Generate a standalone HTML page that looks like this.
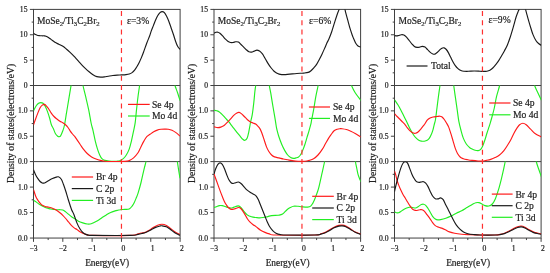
<!DOCTYPE html><html><head><meta charset="utf-8"><style>html,body{margin:0;padding:0;background:#fff;}svg{display:block;}text{font-family:"Liberation Serif",serif;fill:#222;stroke:#222;stroke-width:0.2px;}</style></head><body>
<svg width="550" height="273" viewBox="0 0 550 273">
<rect width="550" height="273" fill="#fff"/>
<defs>
<clipPath id="c00"><rect x="33.50" y="9.40" width="146.60" height="77.60"/></clipPath>
<clipPath id="c10"><rect x="33.50" y="85.50" width="146.60" height="77.60"/></clipPath>
<clipPath id="c20"><rect x="33.50" y="161.60" width="146.60" height="77.95"/></clipPath>
<clipPath id="c01"><rect x="214.00" y="9.40" width="146.60" height="77.60"/></clipPath>
<clipPath id="c11"><rect x="214.00" y="85.50" width="146.60" height="77.60"/></clipPath>
<clipPath id="c21"><rect x="214.00" y="161.60" width="146.60" height="77.95"/></clipPath>
<clipPath id="c02"><rect x="394.50" y="9.40" width="146.60" height="77.60"/></clipPath>
<clipPath id="c12"><rect x="394.50" y="85.50" width="146.60" height="77.60"/></clipPath>
<clipPath id="c22"><rect x="394.50" y="161.60" width="146.60" height="77.95"/></clipPath>
</defs>
<rect x="33.50" y="9.40" width="146.60" height="228.65" fill="none" stroke="#404040" stroke-width="1"/>
<line x1="33.50" y1="85.50" x2="180.10" y2="85.50" stroke="#404040" stroke-width="1"/>
<line x1="33.50" y1="161.60" x2="180.10" y2="161.60" stroke="#404040" stroke-width="1"/>
<line x1="29.90" y1="85.50" x2="33.50" y2="85.50" stroke="#404040" stroke-width="1"/>
<text transform="translate(27.50,88.00) scale(1.04,1)" font-size="7.35" text-anchor="end">0</text>
<line x1="29.90" y1="60.13" x2="33.50" y2="60.13" stroke="#404040" stroke-width="1"/>
<text transform="translate(27.50,62.63) scale(1.04,1)" font-size="7.35" text-anchor="end">5</text>
<line x1="29.90" y1="34.77" x2="33.50" y2="34.77" stroke="#404040" stroke-width="1"/>
<text transform="translate(27.50,37.27) scale(1.04,1)" font-size="7.35" text-anchor="end">10</text>
<line x1="29.90" y1="9.40" x2="33.50" y2="9.40" stroke="#404040" stroke-width="1"/>
<text transform="translate(27.50,11.90) scale(1.04,1)" font-size="7.35" text-anchor="end">15</text>
<line x1="31.70" y1="72.82" x2="33.50" y2="72.82" stroke="#404040" stroke-width="1"/>
<line x1="31.70" y1="47.45" x2="33.50" y2="47.45" stroke="#404040" stroke-width="1"/>
<line x1="31.70" y1="22.08" x2="33.50" y2="22.08" stroke="#404040" stroke-width="1"/>
<line x1="29.90" y1="161.60" x2="33.50" y2="161.60" stroke="#404040" stroke-width="1"/>
<text transform="translate(27.50,164.10) scale(1.04,1)" font-size="7.35" text-anchor="end">0.0</text>
<line x1="29.90" y1="136.23" x2="33.50" y2="136.23" stroke="#404040" stroke-width="1"/>
<text transform="translate(27.50,138.73) scale(1.04,1)" font-size="7.35" text-anchor="end">0.5</text>
<line x1="29.90" y1="110.87" x2="33.50" y2="110.87" stroke="#404040" stroke-width="1"/>
<text transform="translate(27.50,113.37) scale(1.04,1)" font-size="7.35" text-anchor="end">1.0</text>
<line x1="31.70" y1="148.92" x2="33.50" y2="148.92" stroke="#404040" stroke-width="1"/>
<line x1="31.70" y1="123.55" x2="33.50" y2="123.55" stroke="#404040" stroke-width="1"/>
<line x1="31.70" y1="98.18" x2="33.50" y2="98.18" stroke="#404040" stroke-width="1"/>
<line x1="29.90" y1="238.05" x2="33.50" y2="238.05" stroke="#404040" stroke-width="1"/>
<text transform="translate(27.50,240.95) scale(1.04,1)" font-size="7.35" text-anchor="end">0.0</text>
<line x1="29.90" y1="212.57" x2="33.50" y2="212.57" stroke="#404040" stroke-width="1"/>
<text transform="translate(27.50,215.47) scale(1.04,1)" font-size="7.35" text-anchor="end">0.5</text>
<line x1="29.90" y1="187.08" x2="33.50" y2="187.08" stroke="#404040" stroke-width="1"/>
<text transform="translate(27.50,189.98) scale(1.04,1)" font-size="7.35" text-anchor="end">1.0</text>
<line x1="31.70" y1="225.31" x2="33.50" y2="225.31" stroke="#404040" stroke-width="1"/>
<line x1="31.70" y1="199.82" x2="33.50" y2="199.82" stroke="#404040" stroke-width="1"/>
<line x1="31.70" y1="174.34" x2="33.50" y2="174.34" stroke="#404040" stroke-width="1"/>
<line x1="33.50" y1="238.05" x2="33.50" y2="241.85" stroke="#404040" stroke-width="1"/>
<text transform="translate(33.50,250.65) scale(1.04,1)" font-size="7.35" text-anchor="middle">−3</text>
<line x1="62.82" y1="238.05" x2="62.82" y2="241.85" stroke="#404040" stroke-width="1"/>
<text transform="translate(62.82,250.65) scale(1.04,1)" font-size="7.35" text-anchor="middle">−2</text>
<line x1="92.14" y1="238.05" x2="92.14" y2="241.85" stroke="#404040" stroke-width="1"/>
<text transform="translate(92.14,250.65) scale(1.04,1)" font-size="7.35" text-anchor="middle">−1</text>
<line x1="121.46" y1="238.05" x2="121.46" y2="241.85" stroke="#404040" stroke-width="1"/>
<text transform="translate(123.36,250.65) scale(1.04,1)" font-size="7.35" text-anchor="middle">0</text>
<line x1="150.78" y1="238.05" x2="150.78" y2="241.85" stroke="#404040" stroke-width="1"/>
<text transform="translate(152.68,250.65) scale(1.04,1)" font-size="7.35" text-anchor="middle">1</text>
<line x1="180.10" y1="238.05" x2="180.10" y2="241.85" stroke="#404040" stroke-width="1"/>
<text transform="translate(182.00,250.65) scale(1.04,1)" font-size="7.35" text-anchor="middle">2</text>
<line x1="48.16" y1="238.05" x2="48.16" y2="240.05" stroke="#404040" stroke-width="1"/>
<line x1="77.48" y1="238.05" x2="77.48" y2="240.05" stroke="#404040" stroke-width="1"/>
<line x1="106.80" y1="238.05" x2="106.80" y2="240.05" stroke="#404040" stroke-width="1"/>
<line x1="136.12" y1="238.05" x2="136.12" y2="240.05" stroke="#404040" stroke-width="1"/>
<line x1="165.44" y1="238.05" x2="165.44" y2="240.05" stroke="#404040" stroke-width="1"/>
<text x="107.10" y="265.60" font-size="9.35" text-anchor="middle">Energy(eV)</text>
<text transform="translate(13.90,123.40) rotate(-90)" font-size="9.65" text-anchor="middle">Density of states(electrons/eV)</text>
<text x="37.00" y="23.70" font-size="9.5">MoSe<tspan font-size="6.7" dy="2.4">2</tspan><tspan dy="-2.4">/Ti</tspan><tspan font-size="6.7" dy="2.4">3</tspan><tspan dy="-2.4">C</tspan><tspan font-size="6.7" dy="2.4">2</tspan><tspan dy="-2.4">Br</tspan><tspan font-size="6.7" dy="2.4">2</tspan></text>
<text x="126.90" y="24.30" font-size="9.6">ε=3%</text>
<rect x="214.00" y="9.40" width="146.60" height="228.65" fill="none" stroke="#404040" stroke-width="1"/>
<line x1="214.00" y1="85.50" x2="360.60" y2="85.50" stroke="#404040" stroke-width="1"/>
<line x1="214.00" y1="161.60" x2="360.60" y2="161.60" stroke="#404040" stroke-width="1"/>
<line x1="210.40" y1="85.50" x2="214.00" y2="85.50" stroke="#404040" stroke-width="1"/>
<text transform="translate(208.00,88.00) scale(1.04,1)" font-size="7.35" text-anchor="end">0</text>
<line x1="210.40" y1="60.13" x2="214.00" y2="60.13" stroke="#404040" stroke-width="1"/>
<text transform="translate(208.00,62.63) scale(1.04,1)" font-size="7.35" text-anchor="end">5</text>
<line x1="210.40" y1="34.77" x2="214.00" y2="34.77" stroke="#404040" stroke-width="1"/>
<text transform="translate(208.00,37.27) scale(1.04,1)" font-size="7.35" text-anchor="end">10</text>
<line x1="210.40" y1="9.40" x2="214.00" y2="9.40" stroke="#404040" stroke-width="1"/>
<text transform="translate(208.00,11.90) scale(1.04,1)" font-size="7.35" text-anchor="end">15</text>
<line x1="212.20" y1="72.82" x2="214.00" y2="72.82" stroke="#404040" stroke-width="1"/>
<line x1="212.20" y1="47.45" x2="214.00" y2="47.45" stroke="#404040" stroke-width="1"/>
<line x1="212.20" y1="22.08" x2="214.00" y2="22.08" stroke="#404040" stroke-width="1"/>
<line x1="210.40" y1="161.60" x2="214.00" y2="161.60" stroke="#404040" stroke-width="1"/>
<text transform="translate(208.00,164.10) scale(1.04,1)" font-size="7.35" text-anchor="end">0.0</text>
<line x1="210.40" y1="136.23" x2="214.00" y2="136.23" stroke="#404040" stroke-width="1"/>
<text transform="translate(208.00,138.73) scale(1.04,1)" font-size="7.35" text-anchor="end">0.5</text>
<line x1="210.40" y1="110.87" x2="214.00" y2="110.87" stroke="#404040" stroke-width="1"/>
<text transform="translate(208.00,113.37) scale(1.04,1)" font-size="7.35" text-anchor="end">1.0</text>
<line x1="212.20" y1="148.92" x2="214.00" y2="148.92" stroke="#404040" stroke-width="1"/>
<line x1="212.20" y1="123.55" x2="214.00" y2="123.55" stroke="#404040" stroke-width="1"/>
<line x1="212.20" y1="98.18" x2="214.00" y2="98.18" stroke="#404040" stroke-width="1"/>
<line x1="210.40" y1="238.05" x2="214.00" y2="238.05" stroke="#404040" stroke-width="1"/>
<text transform="translate(208.00,240.95) scale(1.04,1)" font-size="7.35" text-anchor="end">0.0</text>
<line x1="210.40" y1="212.57" x2="214.00" y2="212.57" stroke="#404040" stroke-width="1"/>
<text transform="translate(208.00,215.47) scale(1.04,1)" font-size="7.35" text-anchor="end">0.5</text>
<line x1="210.40" y1="187.08" x2="214.00" y2="187.08" stroke="#404040" stroke-width="1"/>
<text transform="translate(208.00,189.98) scale(1.04,1)" font-size="7.35" text-anchor="end">1.0</text>
<line x1="212.20" y1="225.31" x2="214.00" y2="225.31" stroke="#404040" stroke-width="1"/>
<line x1="212.20" y1="199.82" x2="214.00" y2="199.82" stroke="#404040" stroke-width="1"/>
<line x1="212.20" y1="174.34" x2="214.00" y2="174.34" stroke="#404040" stroke-width="1"/>
<line x1="214.00" y1="238.05" x2="214.00" y2="241.85" stroke="#404040" stroke-width="1"/>
<text transform="translate(214.00,250.65) scale(1.04,1)" font-size="7.35" text-anchor="middle">−3</text>
<line x1="243.32" y1="238.05" x2="243.32" y2="241.85" stroke="#404040" stroke-width="1"/>
<text transform="translate(243.32,250.65) scale(1.04,1)" font-size="7.35" text-anchor="middle">−2</text>
<line x1="272.64" y1="238.05" x2="272.64" y2="241.85" stroke="#404040" stroke-width="1"/>
<text transform="translate(272.64,250.65) scale(1.04,1)" font-size="7.35" text-anchor="middle">−1</text>
<line x1="301.96" y1="238.05" x2="301.96" y2="241.85" stroke="#404040" stroke-width="1"/>
<text transform="translate(303.86,250.65) scale(1.04,1)" font-size="7.35" text-anchor="middle">0</text>
<line x1="331.28" y1="238.05" x2="331.28" y2="241.85" stroke="#404040" stroke-width="1"/>
<text transform="translate(333.18,250.65) scale(1.04,1)" font-size="7.35" text-anchor="middle">1</text>
<line x1="360.60" y1="238.05" x2="360.60" y2="241.85" stroke="#404040" stroke-width="1"/>
<text transform="translate(362.50,250.65) scale(1.04,1)" font-size="7.35" text-anchor="middle">2</text>
<line x1="228.66" y1="238.05" x2="228.66" y2="240.05" stroke="#404040" stroke-width="1"/>
<line x1="257.98" y1="238.05" x2="257.98" y2="240.05" stroke="#404040" stroke-width="1"/>
<line x1="287.30" y1="238.05" x2="287.30" y2="240.05" stroke="#404040" stroke-width="1"/>
<line x1="316.62" y1="238.05" x2="316.62" y2="240.05" stroke="#404040" stroke-width="1"/>
<line x1="345.94" y1="238.05" x2="345.94" y2="240.05" stroke="#404040" stroke-width="1"/>
<text x="287.60" y="265.60" font-size="9.35" text-anchor="middle">Energy(eV)</text>
<text transform="translate(195.10,123.40) rotate(-90)" font-size="9.65" text-anchor="middle">Density of states(electrons/eV)</text>
<text x="217.70" y="23.70" font-size="9.5">MoSe<tspan font-size="6.7" dy="2.4">2</tspan><tspan dy="-2.4">/Ti</tspan><tspan font-size="6.7" dy="2.4">3</tspan><tspan dy="-2.4">C</tspan><tspan font-size="6.7" dy="2.4">2</tspan><tspan dy="-2.4">Br</tspan><tspan font-size="6.7" dy="2.4">2</tspan></text>
<text x="309.00" y="23.70" font-size="9.6">ε=6%</text>
<rect x="394.50" y="9.40" width="146.60" height="228.65" fill="none" stroke="#404040" stroke-width="1"/>
<line x1="394.50" y1="85.50" x2="541.10" y2="85.50" stroke="#404040" stroke-width="1"/>
<line x1="394.50" y1="161.60" x2="541.10" y2="161.60" stroke="#404040" stroke-width="1"/>
<line x1="390.90" y1="85.50" x2="394.50" y2="85.50" stroke="#404040" stroke-width="1"/>
<text transform="translate(388.50,88.00) scale(1.04,1)" font-size="7.35" text-anchor="end">0</text>
<line x1="390.90" y1="60.13" x2="394.50" y2="60.13" stroke="#404040" stroke-width="1"/>
<text transform="translate(388.50,62.63) scale(1.04,1)" font-size="7.35" text-anchor="end">5</text>
<line x1="390.90" y1="34.77" x2="394.50" y2="34.77" stroke="#404040" stroke-width="1"/>
<text transform="translate(388.50,37.27) scale(1.04,1)" font-size="7.35" text-anchor="end">10</text>
<line x1="390.90" y1="9.40" x2="394.50" y2="9.40" stroke="#404040" stroke-width="1"/>
<text transform="translate(388.50,11.90) scale(1.04,1)" font-size="7.35" text-anchor="end">15</text>
<line x1="392.70" y1="72.82" x2="394.50" y2="72.82" stroke="#404040" stroke-width="1"/>
<line x1="392.70" y1="47.45" x2="394.50" y2="47.45" stroke="#404040" stroke-width="1"/>
<line x1="392.70" y1="22.08" x2="394.50" y2="22.08" stroke="#404040" stroke-width="1"/>
<line x1="390.90" y1="161.60" x2="394.50" y2="161.60" stroke="#404040" stroke-width="1"/>
<text transform="translate(388.50,164.10) scale(1.04,1)" font-size="7.35" text-anchor="end">0.0</text>
<line x1="390.90" y1="136.23" x2="394.50" y2="136.23" stroke="#404040" stroke-width="1"/>
<text transform="translate(388.50,138.73) scale(1.04,1)" font-size="7.35" text-anchor="end">0.5</text>
<line x1="390.90" y1="110.87" x2="394.50" y2="110.87" stroke="#404040" stroke-width="1"/>
<text transform="translate(388.50,113.37) scale(1.04,1)" font-size="7.35" text-anchor="end">1.0</text>
<line x1="392.70" y1="148.92" x2="394.50" y2="148.92" stroke="#404040" stroke-width="1"/>
<line x1="392.70" y1="123.55" x2="394.50" y2="123.55" stroke="#404040" stroke-width="1"/>
<line x1="392.70" y1="98.18" x2="394.50" y2="98.18" stroke="#404040" stroke-width="1"/>
<line x1="390.90" y1="238.05" x2="394.50" y2="238.05" stroke="#404040" stroke-width="1"/>
<text transform="translate(388.50,240.95) scale(1.04,1)" font-size="7.35" text-anchor="end">0.0</text>
<line x1="390.90" y1="212.57" x2="394.50" y2="212.57" stroke="#404040" stroke-width="1"/>
<text transform="translate(388.50,215.47) scale(1.04,1)" font-size="7.35" text-anchor="end">0.5</text>
<line x1="390.90" y1="187.08" x2="394.50" y2="187.08" stroke="#404040" stroke-width="1"/>
<text transform="translate(388.50,189.98) scale(1.04,1)" font-size="7.35" text-anchor="end">1.0</text>
<line x1="392.70" y1="225.31" x2="394.50" y2="225.31" stroke="#404040" stroke-width="1"/>
<line x1="392.70" y1="199.82" x2="394.50" y2="199.82" stroke="#404040" stroke-width="1"/>
<line x1="392.70" y1="174.34" x2="394.50" y2="174.34" stroke="#404040" stroke-width="1"/>
<line x1="394.50" y1="238.05" x2="394.50" y2="241.85" stroke="#404040" stroke-width="1"/>
<text transform="translate(394.50,250.65) scale(1.04,1)" font-size="7.35" text-anchor="middle">−3</text>
<line x1="423.82" y1="238.05" x2="423.82" y2="241.85" stroke="#404040" stroke-width="1"/>
<text transform="translate(423.82,250.65) scale(1.04,1)" font-size="7.35" text-anchor="middle">−2</text>
<line x1="453.14" y1="238.05" x2="453.14" y2="241.85" stroke="#404040" stroke-width="1"/>
<text transform="translate(453.14,250.65) scale(1.04,1)" font-size="7.35" text-anchor="middle">−1</text>
<line x1="482.46" y1="238.05" x2="482.46" y2="241.85" stroke="#404040" stroke-width="1"/>
<text transform="translate(484.36,250.65) scale(1.04,1)" font-size="7.35" text-anchor="middle">0</text>
<line x1="511.78" y1="238.05" x2="511.78" y2="241.85" stroke="#404040" stroke-width="1"/>
<text transform="translate(513.68,250.65) scale(1.04,1)" font-size="7.35" text-anchor="middle">1</text>
<line x1="541.10" y1="238.05" x2="541.10" y2="241.85" stroke="#404040" stroke-width="1"/>
<text transform="translate(543.00,250.65) scale(1.04,1)" font-size="7.35" text-anchor="middle">2</text>
<line x1="409.16" y1="238.05" x2="409.16" y2="240.05" stroke="#404040" stroke-width="1"/>
<line x1="438.48" y1="238.05" x2="438.48" y2="240.05" stroke="#404040" stroke-width="1"/>
<line x1="467.80" y1="238.05" x2="467.80" y2="240.05" stroke="#404040" stroke-width="1"/>
<line x1="497.12" y1="238.05" x2="497.12" y2="240.05" stroke="#404040" stroke-width="1"/>
<line x1="526.44" y1="238.05" x2="526.44" y2="240.05" stroke="#404040" stroke-width="1"/>
<text x="468.10" y="265.60" font-size="9.35" text-anchor="middle">Energy(eV)</text>
<text transform="translate(375.60,123.40) rotate(-90)" font-size="9.65" text-anchor="middle">Density of states(electrons/eV)</text>
<text x="398.60" y="23.70" font-size="9.5">MoSe<tspan font-size="6.7" dy="2.4">2</tspan><tspan dy="-2.4">/Ti</tspan><tspan font-size="6.7" dy="2.4">3</tspan><tspan dy="-2.4">C</tspan><tspan font-size="6.7" dy="2.4">2</tspan><tspan dy="-2.4">Br</tspan><tspan font-size="6.7" dy="2.4">2</tspan></text>
<text x="488.40" y="22.60" font-size="9.6">ε=9%</text>
<path d="M33.50,33.30 C33.83,33.52 34.80,34.23 35.50,34.60 C36.20,34.97 36.95,35.32 37.70,35.50 C38.45,35.68 39.25,35.65 40.00,35.70 C40.75,35.75 41.47,35.77 42.20,35.80 C42.93,35.83 43.57,35.73 44.40,35.90 C45.23,36.07 46.10,36.22 47.20,36.80 C48.30,37.38 49.72,38.48 51.00,39.40 C52.28,40.32 53.62,41.50 54.90,42.30 C56.18,43.10 57.43,43.57 58.70,44.20 C59.97,44.83 61.23,45.30 62.50,46.10 C63.77,46.90 65.03,47.95 66.30,49.00 C67.57,50.05 68.83,51.20 70.10,52.40 C71.37,53.60 72.63,54.87 73.90,56.20 C75.17,57.53 76.43,59.00 77.70,60.40 C78.97,61.80 80.23,63.27 81.50,64.60 C82.77,65.93 84.03,67.20 85.30,68.40 C86.57,69.60 87.82,70.75 89.10,71.80 C90.38,72.85 91.72,73.90 93.00,74.70 C94.28,75.50 95.53,76.20 96.80,76.60 C98.07,77.00 99.33,77.05 100.60,77.10 C101.87,77.15 103.10,77.05 104.40,76.90 C105.70,76.75 107.00,76.43 108.40,76.20 C109.80,75.97 111.33,75.68 112.80,75.50 C114.27,75.32 115.73,75.20 117.20,75.10 C118.67,75.00 120.13,74.98 121.60,74.90 C123.07,74.82 124.72,74.75 126.00,74.60 C127.28,74.45 128.28,74.33 129.30,74.00 C130.32,73.67 131.18,73.30 132.10,72.60 C133.02,71.90 133.98,70.82 134.80,69.80 C135.62,68.78 136.27,67.73 137.00,66.50 C137.73,65.27 138.47,63.88 139.20,62.40 C139.93,60.92 140.67,59.33 141.40,57.60 C142.13,55.87 142.70,54.43 143.60,52.00 C144.50,49.57 145.80,45.67 146.80,43.00 C147.80,40.33 148.87,37.98 149.60,36.00 C150.33,34.02 150.57,32.83 151.20,31.10 C151.83,29.37 152.67,27.43 153.40,25.60 C154.13,23.77 154.87,21.78 155.60,20.10 C156.33,18.42 157.07,16.75 157.80,15.50 C158.53,14.25 159.27,13.25 160.00,12.60 C160.73,11.95 161.47,11.60 162.20,11.60 C162.93,11.60 163.67,11.82 164.40,12.60 C165.13,13.38 165.87,14.87 166.60,16.30 C167.33,17.73 168.07,19.33 168.80,21.20 C169.53,23.07 170.20,25.20 171.00,27.50 C171.80,29.80 172.87,32.78 173.60,35.00 C174.33,37.22 174.73,38.92 175.40,40.80 C176.07,42.68 176.82,44.85 177.60,46.30 C178.38,47.75 179.68,48.97 180.10,49.50" fill="none" stroke="#1a1a1a" stroke-width="1.15" stroke-linejoin="round" clip-path="url(#c00)"/>
<path d="M33.50,110.70 C33.98,109.83 35.55,106.73 36.40,105.50 C37.25,104.27 37.87,103.78 38.60,103.30 C39.33,102.82 40.07,102.60 40.80,102.60 C41.53,102.60 42.27,102.68 43.00,103.30 C43.73,103.92 44.47,104.95 45.20,106.30 C45.93,107.65 46.67,109.45 47.40,111.40 C48.13,113.35 48.95,115.82 49.60,118.00 C50.25,120.18 50.68,122.73 51.30,124.50 C51.92,126.27 52.60,127.07 53.30,128.60 C54.00,130.13 54.77,132.43 55.50,133.70 C56.23,134.97 57.10,135.70 57.70,136.20 C58.30,136.70 58.62,136.75 59.10,136.70 C59.58,136.65 59.98,136.88 60.60,135.90 C61.22,134.92 62.15,132.62 62.80,130.80 C63.45,128.98 63.88,127.98 64.50,125.00 C65.12,122.02 65.80,117.12 66.50,112.90 C67.20,108.68 68.05,103.62 68.70,99.70 C69.35,95.78 69.93,92.18 70.40,89.40 C70.87,86.62 71.27,84.40 71.50,83.00 C71.73,81.60 71.75,81.33 71.80,81.00 M82.60,81.00 C82.68,81.83 82.58,83.38 83.10,86.00 C83.62,88.62 84.77,92.72 85.70,96.70 C86.63,100.68 87.80,105.52 88.70,109.90 C89.60,114.28 90.37,119.52 91.10,123.00 C91.83,126.48 92.40,127.78 93.10,130.80 C93.80,133.82 94.57,138.05 95.30,141.10 C96.03,144.15 96.77,146.78 97.50,149.10 C98.23,151.42 98.97,153.40 99.70,155.00 C100.43,156.60 101.05,157.80 101.90,158.70 C102.75,159.60 103.58,160.00 104.80,160.40 C106.02,160.80 107.67,160.95 109.20,161.10 C110.73,161.25 112.53,161.30 114.00,161.30 C115.47,161.30 116.93,161.25 118.00,161.10 C119.07,160.95 119.52,160.80 120.40,160.40 C121.28,160.00 122.32,159.60 123.30,158.70 C124.28,157.80 125.32,156.60 126.30,155.00 C127.28,153.40 128.35,151.42 129.20,149.10 C130.05,146.78 130.67,144.15 131.40,141.10 C132.13,138.05 132.97,133.88 133.60,130.80 C134.23,127.72 134.72,126.08 135.20,122.60 C135.68,119.12 136.03,114.22 136.50,109.90 C136.97,105.58 137.50,100.68 138.00,96.70 C138.50,92.72 139.17,88.62 139.50,86.00 C139.83,83.38 139.92,81.83 140.00,81.00 M174.50,81.00 C174.58,81.75 174.50,83.58 175.00,85.50 C175.50,87.42 176.73,90.23 177.50,92.50 C178.27,94.77 179.10,97.68 179.60,99.10 C180.10,100.52 180.35,100.68 180.50,101.00" fill="none" stroke="#22ee22" stroke-width="1.15" stroke-linejoin="round" clip-path="url(#c10)"/>
<path d="M33.50,125.00 C33.87,123.95 34.97,120.72 35.70,118.70 C36.43,116.68 37.17,114.73 37.90,112.90 C38.63,111.07 39.37,109.00 40.10,107.70 C40.83,106.40 41.57,105.65 42.30,105.10 C43.03,104.55 43.77,104.20 44.50,104.40 C45.23,104.60 45.97,105.50 46.70,106.30 C47.43,107.10 48.17,108.10 48.90,109.20 C49.63,110.30 50.25,111.68 51.10,112.90 C51.95,114.12 53.03,115.48 54.00,116.50 C54.97,117.52 55.92,118.20 56.90,119.00 C57.88,119.80 58.92,120.67 59.90,121.30 C60.88,121.93 61.87,122.22 62.80,122.80 C63.73,123.38 64.63,124.02 65.50,124.80 C66.37,125.58 67.23,126.50 68.00,127.50 C68.77,128.50 69.35,129.72 70.10,130.80 C70.85,131.88 71.77,133.10 72.50,134.00 C73.23,134.90 73.77,135.27 74.50,136.20 C75.23,137.13 76.00,138.30 76.90,139.60 C77.80,140.90 78.92,142.53 79.90,144.00 C80.88,145.47 81.58,146.82 82.80,148.40 C84.02,149.98 85.73,152.08 87.20,153.50 C88.67,154.92 90.13,155.98 91.60,156.90 C93.07,157.82 94.53,158.42 96.00,159.00 C97.47,159.58 98.93,160.03 100.40,160.40 C101.87,160.77 103.20,161.02 104.80,161.20 C106.40,161.38 106.67,161.47 110.00,161.50 C113.33,161.53 121.60,161.55 124.80,161.40 C128.00,161.25 127.73,161.18 129.20,160.60 C130.67,160.02 132.13,159.20 133.60,157.90 C135.07,156.60 136.78,154.63 138.00,152.80 C139.22,150.97 139.92,148.85 140.90,146.90 C141.88,144.95 142.92,142.80 143.90,141.10 C144.88,139.40 145.78,137.83 146.80,136.70 C147.82,135.57 148.85,135.13 150.00,134.30 C151.15,133.47 152.48,132.40 153.70,131.70 C154.92,131.00 156.08,130.50 157.30,130.10 C158.52,129.70 159.78,129.47 161.00,129.30 C162.22,129.13 163.38,129.12 164.60,129.10 C165.82,129.08 167.07,129.02 168.30,129.20 C169.53,129.38 170.78,129.67 172.00,130.20 C173.22,130.73 174.27,131.43 175.60,132.40 C176.93,133.37 179.27,135.40 180.00,136.00" fill="none" stroke="#ff1a1a" stroke-width="1.15" stroke-linejoin="round" clip-path="url(#c10)"/>
<path d="M33.50,200.20 C33.98,200.52 35.43,201.43 36.40,202.10 C37.37,202.77 38.32,203.53 39.30,204.20 C40.28,204.87 41.32,205.55 42.30,206.10 C43.28,206.65 44.23,207.13 45.20,207.50 C46.17,207.87 47.12,208.05 48.10,208.30 C49.08,208.55 50.12,208.82 51.10,209.00 C52.08,209.18 53.03,209.28 54.00,209.40 C54.97,209.52 55.92,209.65 56.90,209.70 C57.88,209.75 58.92,209.65 59.90,209.70 C60.88,209.75 61.83,209.63 62.80,210.00 C63.77,210.37 64.72,211.17 65.70,211.90 C66.68,212.63 67.72,213.58 68.70,214.40 C69.68,215.22 70.63,216.12 71.60,216.80 C72.57,217.48 73.37,217.77 74.50,218.50 C75.63,219.23 77.02,220.47 78.40,221.20 C79.78,221.93 81.33,222.43 82.80,222.90 C84.27,223.37 85.98,223.82 87.20,224.00 C88.42,224.18 89.12,224.18 90.10,224.00 C91.08,223.82 91.87,223.45 93.10,222.90 C94.33,222.35 96.03,221.55 97.50,220.70 C98.97,219.85 100.43,218.77 101.90,217.80 C103.37,216.83 104.83,215.80 106.30,214.90 C107.77,214.00 109.23,213.07 110.70,212.40 C112.17,211.73 113.88,211.27 115.10,210.90 C116.32,210.53 117.12,210.40 118.00,210.20 C118.88,210.00 119.27,209.83 120.40,209.70 C121.53,209.57 123.33,209.52 124.80,209.40 C126.27,209.28 127.98,209.55 129.20,209.00 C130.42,208.45 131.25,207.20 132.10,206.10 C132.95,205.00 133.62,203.75 134.30,202.40 C134.98,201.05 135.58,199.52 136.20,198.00 C136.82,196.48 137.22,195.80 138.00,193.30 C138.78,190.80 139.92,186.92 140.90,183.00 C141.88,179.08 143.05,173.37 143.90,169.80 C144.75,166.23 145.57,163.57 146.00,161.60 C146.43,159.63 146.42,158.60 146.50,158.00 M177.00,158.00 C177.07,158.67 176.95,158.92 177.40,162.00 C177.85,165.08 179.23,173.83 179.70,176.50 C180.17,179.17 180.12,177.75 180.20,178.00" fill="none" stroke="#22ee22" stroke-width="1.15" stroke-linejoin="round" clip-path="url(#c20)"/>
<path d="M33.50,189.60 C33.87,190.70 34.97,194.43 35.70,196.20 C36.43,197.97 37.17,199.05 37.90,200.20 C38.63,201.35 39.37,202.25 40.10,203.10 C40.83,203.95 41.45,204.73 42.30,205.30 C43.15,205.87 44.23,206.20 45.20,206.50 C46.17,206.80 47.12,206.88 48.10,207.10 C49.08,207.32 50.12,207.48 51.10,207.80 C52.08,208.12 53.03,208.55 54.00,209.00 C54.97,209.45 55.92,209.88 56.90,210.50 C57.88,211.12 58.92,211.90 59.90,212.70 C60.88,213.50 61.83,214.33 62.80,215.30 C63.77,216.27 64.72,217.35 65.70,218.50 C66.68,219.65 67.72,221.02 68.70,222.20 C69.68,223.38 70.63,224.62 71.60,225.60 C72.57,226.58 73.62,227.45 74.50,228.10 C75.38,228.75 76.00,228.90 76.90,229.50 C77.80,230.10 78.92,231.08 79.90,231.70 C80.88,232.32 81.58,232.70 82.80,233.20 C84.02,233.70 85.73,234.33 87.20,234.70 C88.67,235.07 84.47,235.28 91.60,235.40 C98.73,235.52 122.27,235.65 130.00,235.40 C137.73,235.15 136.33,234.25 138.00,233.90 C139.67,233.55 138.93,233.52 140.00,233.30 C141.07,233.08 142.93,233.08 144.40,232.60 C145.87,232.12 147.33,231.23 148.80,230.40 C150.27,229.57 151.73,228.47 153.20,227.60 C154.67,226.73 156.13,225.75 157.60,225.20 C159.07,224.65 160.53,224.27 162.00,224.30 C163.47,224.33 164.93,224.67 166.40,225.40 C167.87,226.13 169.33,227.60 170.80,228.70 C172.27,229.80 173.83,231.12 175.20,232.00 C176.57,232.88 178.18,233.62 179.00,234.00 C179.82,234.38 179.92,234.25 180.10,234.30" fill="none" stroke="#ff1a1a" stroke-width="1.15" stroke-linejoin="round" clip-path="url(#c20)"/>
<path d="M33.50,169.80 C33.87,170.65 34.97,173.43 35.70,174.90 C36.43,176.37 37.17,177.50 37.90,178.60 C38.63,179.70 39.37,180.77 40.10,181.50 C40.83,182.23 41.57,182.75 42.30,183.00 C43.03,183.25 43.77,183.20 44.50,183.00 C45.23,182.80 45.85,182.28 46.70,181.80 C47.55,181.32 48.63,180.63 49.60,180.10 C50.57,179.57 51.52,179.05 52.50,178.60 C53.48,178.15 54.52,177.70 55.50,177.40 C56.48,177.10 57.43,176.48 58.40,176.80 C59.37,177.12 60.45,178.02 61.30,179.30 C62.15,180.58 62.77,182.55 63.50,184.50 C64.23,186.45 64.97,188.68 65.70,191.00 C66.43,193.32 67.18,196.07 67.90,198.40 C68.62,200.73 69.38,203.12 70.00,205.00 C70.62,206.88 70.93,208.07 71.60,209.70 C72.27,211.33 73.12,212.60 74.00,214.80 C74.88,217.00 75.92,220.57 76.90,222.90 C77.88,225.23 78.92,227.20 79.90,228.80 C80.88,230.40 81.83,231.57 82.80,232.50 C83.77,233.43 84.72,233.97 85.70,234.40 C86.68,234.83 87.47,234.93 88.70,235.10 C89.93,235.27 86.22,235.35 93.10,235.40 C99.98,235.45 122.52,235.57 130.00,235.40 C137.48,235.23 135.93,234.73 138.00,234.40 C140.07,234.07 140.93,233.80 142.40,233.40 C143.87,233.00 145.33,232.60 146.80,232.00 C148.27,231.40 149.73,230.57 151.20,229.80 C152.67,229.03 154.13,228.03 155.60,227.40 C157.07,226.77 158.93,226.27 160.00,226.00 C161.07,225.73 160.93,225.67 162.00,225.80 C163.07,225.93 164.93,226.13 166.40,226.80 C167.87,227.47 169.33,228.77 170.80,229.80 C172.27,230.83 173.83,232.15 175.20,233.00 C176.57,233.85 178.18,234.53 179.00,234.90 C179.82,235.27 179.92,235.15 180.10,235.20" fill="none" stroke="#1a1a1a" stroke-width="1.15" stroke-linejoin="round" clip-path="url(#c20)"/>
<path d="M214.00,33.30 C214.33,33.13 215.35,32.48 216.00,32.30 C216.65,32.12 217.25,32.03 217.90,32.20 C218.55,32.37 219.12,32.68 219.90,33.30 C220.68,33.92 221.72,34.98 222.60,35.90 C223.48,36.82 224.33,37.92 225.20,38.80 C226.07,39.68 226.92,40.58 227.80,41.20 C228.68,41.82 229.62,42.28 230.50,42.50 C231.38,42.72 232.23,42.62 233.10,42.50 C233.97,42.38 234.82,41.87 235.70,41.80 C236.58,41.73 237.52,41.65 238.40,42.10 C239.28,42.55 240.12,43.67 241.00,44.50 C241.88,45.33 242.82,46.23 243.70,47.10 C244.58,47.97 245.43,48.93 246.30,49.70 C247.17,50.47 248.02,51.30 248.90,51.70 C249.78,52.10 250.72,52.20 251.60,52.10 C252.48,52.00 253.32,51.43 254.20,51.10 C255.08,50.77 256.02,50.10 256.90,50.10 C257.78,50.10 258.65,50.55 259.50,51.10 C260.35,51.65 261.37,52.72 262.00,53.40 C262.63,54.08 262.65,54.13 263.30,55.20 C263.95,56.27 265.02,58.27 265.90,59.80 C266.78,61.33 267.72,63.03 268.60,64.40 C269.48,65.77 270.33,66.90 271.20,68.00 C272.07,69.10 272.92,70.17 273.80,71.00 C274.68,71.83 275.62,72.48 276.50,73.00 C277.38,73.52 278.23,73.83 279.10,74.10 C279.97,74.37 280.82,74.52 281.70,74.60 C282.58,74.68 283.07,74.68 284.40,74.60 C285.73,74.52 287.95,74.25 289.70,74.10 C291.45,73.95 293.15,73.83 294.90,73.70 C296.65,73.57 298.68,73.40 300.20,73.30 C301.72,73.20 302.67,73.25 304.00,73.10 C305.33,72.95 307.03,72.80 308.20,72.40 C309.37,72.00 310.07,71.45 311.00,70.70 C311.93,69.95 312.87,68.95 313.80,67.90 C314.73,66.85 315.68,65.80 316.60,64.40 C317.52,63.00 318.38,61.25 319.30,59.50 C320.22,57.75 321.17,55.87 322.10,53.90 C323.03,51.93 324.08,49.55 324.90,47.70 C325.72,45.85 326.35,44.22 327.00,42.80 C327.65,41.38 328.02,41.05 328.80,39.20 C329.58,37.35 330.72,34.55 331.70,31.70 C332.68,28.85 333.72,25.17 334.70,22.10 C335.68,19.03 336.80,15.55 337.60,13.30 C338.40,11.05 338.85,9.98 339.50,8.60 C340.15,7.22 340.83,5.60 341.50,5.00 C342.17,4.40 342.95,4.40 343.50,5.00 C344.05,5.60 344.43,7.33 344.80,8.60 C345.17,9.87 345.18,10.58 345.70,12.60 C346.22,14.62 347.17,18.02 347.90,20.70 C348.63,23.38 349.37,26.27 350.10,28.70 C350.83,31.13 351.75,33.73 352.30,35.30 C352.85,36.87 352.85,36.82 353.40,38.10 C353.95,39.38 354.88,41.73 355.60,43.00 C356.32,44.27 356.98,45.07 357.70,45.70 C358.42,46.33 359.35,46.58 359.90,46.80 C360.45,47.02 360.82,46.97 361.00,47.00" fill="none" stroke="#1a1a1a" stroke-width="1.15" stroke-linejoin="round" clip-path="url(#c01)"/>
<path d="M214.00,110.20 C214.65,110.35 216.77,110.60 217.90,111.10 C219.03,111.60 219.83,112.37 220.80,113.20 C221.77,114.03 222.72,115.05 223.70,116.10 C224.68,117.15 225.77,118.47 226.70,119.50 C227.63,120.53 228.57,121.40 229.30,122.30 C230.03,123.20 230.32,123.85 231.10,124.90 C231.88,125.95 233.03,127.37 234.00,128.60 C234.97,129.83 235.92,131.08 236.90,132.30 C237.88,133.52 238.92,134.73 239.90,135.90 C240.88,137.07 241.95,138.57 242.80,139.30 C243.65,140.03 244.27,140.50 245.00,140.30 C245.73,140.10 246.58,139.43 247.20,138.10 C247.82,136.77 248.27,134.25 248.70,132.30 C249.13,130.35 249.48,128.12 249.80,126.40 C250.12,124.68 250.18,124.02 250.60,122.00 C251.02,119.98 251.77,117.53 252.30,114.30 C252.83,111.07 253.38,106.27 253.80,102.60 C254.22,98.93 254.50,95.07 254.80,92.30 C255.10,89.53 255.40,87.72 255.60,86.00 C255.80,84.28 255.93,82.67 256.00,82.00 M269.00,82.00 C269.07,82.67 269.08,84.03 269.40,86.00 C269.72,87.97 270.42,91.03 270.90,93.80 C271.38,96.57 271.82,99.67 272.30,102.60 C272.78,105.53 273.30,108.47 273.80,111.40 C274.30,114.33 274.90,117.77 275.30,120.20 C275.70,122.63 275.93,124.45 276.20,126.00 C276.47,127.55 276.45,127.72 276.90,129.50 C277.35,131.28 278.07,134.17 278.90,136.70 C279.73,139.23 280.92,142.38 281.90,144.70 C282.88,147.02 283.83,148.88 284.80,150.60 C285.77,152.32 286.72,153.85 287.70,155.00 C288.68,156.15 289.72,156.93 290.70,157.50 C291.68,158.07 292.72,158.33 293.60,158.40 C294.48,158.47 295.23,158.10 296.00,157.90 C296.77,157.70 297.47,157.68 298.20,157.20 C298.93,156.72 299.67,156.10 300.40,155.00 C301.13,153.90 301.87,152.32 302.60,150.60 C303.33,148.88 304.07,146.90 304.80,144.70 C305.53,142.50 306.27,139.83 307.00,137.40 C307.73,134.97 308.55,132.35 309.20,130.10 C309.85,127.85 310.50,125.58 310.90,123.90 C311.30,122.22 311.15,122.33 311.60,120.00 C312.05,117.67 312.90,113.78 313.60,109.90 C314.30,106.02 315.07,100.68 315.80,96.70 C316.53,92.72 317.57,88.45 318.00,86.00 C318.43,83.55 318.33,82.67 318.40,82.00 M350.50,82.00 C350.55,82.33 350.02,82.20 350.80,84.00 C351.58,85.80 353.57,90.13 355.20,92.80 C356.83,95.47 359.55,98.55 360.60,100.00 C361.65,101.45 361.35,101.25 361.50,101.50" fill="none" stroke="#22ee22" stroke-width="1.15" stroke-linejoin="round" clip-path="url(#c11)"/>
<path d="M214.00,126.80 C214.65,126.93 216.77,127.55 217.90,127.60 C219.03,127.65 219.83,127.42 220.80,127.10 C221.77,126.78 222.92,126.18 223.70,125.70 C224.48,125.22 224.77,124.87 225.50,124.20 C226.23,123.53 227.17,122.67 228.10,121.70 C229.03,120.73 230.12,119.50 231.10,118.40 C232.08,117.30 233.03,116.02 234.00,115.10 C234.97,114.18 236.05,113.35 236.90,112.90 C237.75,112.45 238.37,112.28 239.10,112.40 C239.83,112.52 240.43,112.92 241.30,113.60 C242.17,114.28 243.32,115.52 244.30,116.50 C245.28,117.48 246.23,118.63 247.20,119.50 C248.17,120.37 249.12,121.12 250.10,121.70 C251.08,122.28 252.12,122.57 253.10,123.00 C254.08,123.43 255.37,123.93 256.00,124.30 C256.63,124.67 256.25,124.48 256.90,125.20 C257.55,125.92 259.03,127.18 259.90,128.60 C260.77,130.02 261.37,131.75 262.10,133.70 C262.83,135.65 263.57,138.10 264.30,140.30 C265.03,142.50 265.77,145.07 266.50,146.90 C267.23,148.73 267.85,149.95 268.70,151.30 C269.55,152.65 270.63,154.07 271.60,155.00 C272.57,155.93 273.28,156.42 274.50,156.90 C275.72,157.38 277.43,157.55 278.90,157.90 C280.37,158.25 281.83,158.68 283.30,159.00 C284.77,159.32 286.23,159.53 287.70,159.80 C289.17,160.07 290.38,160.37 292.10,160.60 C293.82,160.83 295.85,161.08 298.00,161.20 C300.15,161.32 303.13,161.43 305.00,161.30 C306.87,161.17 307.77,160.83 309.20,160.40 C310.63,159.97 312.13,159.60 313.60,158.70 C315.07,157.80 316.53,156.60 318.00,155.00 C319.47,153.40 321.17,150.97 322.40,149.10 C323.63,147.23 324.38,145.58 325.40,143.80 C326.42,142.02 327.53,139.95 328.50,138.40 C329.47,136.85 330.27,135.77 331.20,134.50 C332.13,133.23 333.08,131.68 334.10,130.80 C335.12,129.92 336.32,129.55 337.30,129.20 C338.28,128.85 339.22,128.78 340.00,128.70 C340.78,128.62 340.93,128.57 342.00,128.70 C343.07,128.83 344.93,129.07 346.40,129.50 C347.87,129.93 349.33,130.63 350.80,131.30 C352.27,131.97 353.50,132.55 355.20,133.50 C356.90,134.45 360.03,136.42 361.00,137.00" fill="none" stroke="#ff1a1a" stroke-width="1.15" stroke-linejoin="round" clip-path="url(#c11)"/>
<path d="M214.00,207.50 C214.40,207.38 215.52,207.12 216.40,206.80 C217.28,206.48 218.32,205.80 219.30,205.60 C220.28,205.40 221.32,205.45 222.30,205.60 C223.28,205.75 224.23,206.18 225.20,206.50 C226.17,206.82 227.12,207.25 228.10,207.50 C229.08,207.75 230.12,208.07 231.10,208.00 C232.08,207.93 233.03,207.42 234.00,207.10 C234.97,206.78 236.05,206.27 236.90,206.10 C237.75,205.93 238.37,205.78 239.10,206.10 C239.83,206.42 240.43,207.03 241.30,208.00 C242.17,208.97 243.32,210.75 244.30,211.90 C245.28,213.05 246.23,214.17 247.20,214.90 C248.17,215.63 249.12,215.93 250.10,216.30 C251.08,216.67 252.12,216.90 253.10,217.10 C254.08,217.30 254.75,217.38 256.00,217.50 C257.25,217.62 258.92,217.88 260.60,217.80 C262.28,217.72 264.27,217.37 266.10,217.00 C267.93,216.63 269.58,215.90 271.60,215.60 C273.62,215.30 276.37,215.45 278.20,215.20 C280.03,214.95 281.13,215.02 282.60,214.10 C284.07,213.18 285.72,210.80 287.00,209.70 C288.28,208.60 289.20,208.08 290.30,207.50 C291.40,206.92 292.32,206.40 293.60,206.20 C294.88,206.00 296.62,206.20 298.00,206.30 C299.38,206.40 300.28,206.67 301.90,206.80 C303.52,206.93 306.23,207.22 307.70,207.10 C309.17,206.98 309.83,206.77 310.70,206.10 C311.57,205.43 312.30,204.08 312.90,203.10 C313.50,202.12 313.90,201.08 314.30,200.20 C314.70,199.32 314.92,198.78 315.30,197.80 C315.68,196.82 316.03,195.95 316.60,194.30 C317.17,192.65 317.85,191.17 318.70,187.90 C319.55,184.63 320.72,179.10 321.70,174.70 C322.68,170.30 324.05,164.28 324.60,161.50 C325.15,158.72 324.93,158.58 325.00,158.00 M355.30,158.00 C355.33,158.67 355.25,160.25 355.50,162.00 C355.75,163.75 356.37,166.38 356.80,168.50 C357.23,170.62 357.52,172.72 358.10,174.70 C358.68,176.68 359.82,179.18 360.30,180.40 C360.78,181.62 360.88,181.73 361.00,182.00" fill="none" stroke="#22ee22" stroke-width="1.15" stroke-linejoin="round" clip-path="url(#c21)"/>
<path d="M214.00,173.90 C214.40,175.00 215.52,178.05 216.40,180.50 C217.28,182.95 218.32,185.93 219.30,188.60 C220.28,191.27 221.43,194.32 222.30,196.50 C223.17,198.68 223.77,200.23 224.50,201.70 C225.23,203.17 225.97,204.25 226.70,205.30 C227.43,206.35 228.17,207.32 228.90,208.00 C229.63,208.68 230.25,209.23 231.10,209.40 C231.95,209.57 233.03,209.23 234.00,209.00 C234.97,208.77 236.05,208.25 236.90,208.00 C237.75,207.75 238.37,207.33 239.10,207.50 C239.83,207.67 240.43,208.02 241.30,209.00 C242.17,209.98 243.32,211.82 244.30,213.40 C245.28,214.98 246.23,217.03 247.20,218.50 C248.17,219.97 249.12,221.17 250.10,222.20 C251.08,223.23 252.12,223.97 253.10,224.70 C254.08,225.43 254.75,225.68 256.00,226.60 C257.25,227.52 259.10,229.23 260.60,230.20 C262.10,231.17 263.53,231.78 265.00,232.40 C266.47,233.02 267.57,233.47 269.40,233.90 C271.23,234.33 268.40,234.82 276.00,235.00 C283.60,235.18 307.52,235.20 315.00,235.00 C322.48,234.80 319.18,234.23 320.90,233.80 C322.62,233.37 323.88,233.03 325.30,232.40 C326.72,231.77 327.93,230.87 329.40,230.00 C330.87,229.13 332.53,227.97 334.10,227.20 C335.67,226.43 337.43,225.75 338.80,225.40 C340.17,225.05 341.13,225.00 342.30,225.10 C343.47,225.20 344.43,225.37 345.80,226.00 C347.17,226.63 348.93,227.90 350.50,228.90 C352.07,229.90 353.73,231.23 355.20,232.00 C356.67,232.77 358.33,233.17 359.30,233.50 C360.27,233.83 360.72,233.92 361.00,234.00" fill="none" stroke="#ff1a1a" stroke-width="1.15" stroke-linejoin="round" clip-path="url(#c21)"/>
<path d="M214.00,173.90 C214.28,173.05 215.05,170.38 215.70,168.80 C216.35,167.22 217.17,165.38 217.90,164.40 C218.63,163.42 219.37,162.90 220.10,162.90 C220.83,162.90 221.57,163.42 222.30,164.40 C223.03,165.38 223.77,167.08 224.50,168.80 C225.23,170.52 225.97,172.87 226.70,174.70 C227.43,176.53 228.17,178.47 228.90,179.80 C229.63,181.13 230.37,182.08 231.10,182.70 C231.83,183.32 232.57,183.50 233.30,183.50 C234.03,183.50 234.65,182.95 235.50,182.70 C236.35,182.45 237.43,181.82 238.40,182.00 C239.37,182.18 240.32,182.95 241.30,183.80 C242.28,184.65 243.32,186.05 244.30,187.10 C245.28,188.15 246.23,189.23 247.20,190.10 C248.17,190.97 249.12,191.65 250.10,192.30 C251.08,192.95 252.12,193.42 253.10,194.00 C254.08,194.58 255.12,194.83 256.00,195.80 C256.88,196.77 257.63,198.22 258.40,199.80 C259.17,201.38 259.87,203.47 260.60,205.30 C261.33,207.13 262.07,208.97 262.80,210.80 C263.53,212.63 264.27,214.47 265.00,216.30 C265.73,218.13 266.47,220.15 267.20,221.80 C267.93,223.45 268.48,224.73 269.40,226.20 C270.32,227.67 271.60,229.43 272.70,230.60 C273.80,231.77 274.72,232.53 276.00,233.20 C277.28,233.87 278.57,234.30 280.40,234.60 C282.23,234.90 281.23,234.93 287.00,235.00 C292.77,235.07 309.35,235.15 315.00,235.00 C320.65,234.85 319.18,234.47 320.90,234.10 C322.62,233.73 323.83,233.38 325.30,232.80 C326.77,232.22 328.23,231.43 329.70,230.60 C331.17,229.77 332.58,228.55 334.10,227.80 C335.62,227.05 337.43,226.42 338.80,226.10 C340.17,225.78 341.13,225.80 342.30,225.90 C343.47,226.00 344.43,226.12 345.80,226.70 C347.17,227.28 348.93,228.47 350.50,229.40 C352.07,230.33 353.73,231.55 355.20,232.30 C356.67,233.05 358.33,233.57 359.30,233.90 C360.27,234.23 360.72,234.23 361.00,234.30" fill="none" stroke="#1a1a1a" stroke-width="1.15" stroke-linejoin="round" clip-path="url(#c21)"/>
<path d="M394.50,35.50 C394.85,35.57 395.92,35.90 396.60,35.90 C397.28,35.90 397.83,35.70 398.60,35.50 C399.37,35.30 400.32,34.78 401.20,34.70 C402.08,34.62 403.02,34.58 403.90,35.00 C404.78,35.42 405.62,36.28 406.50,37.20 C407.38,38.12 408.32,39.40 409.20,40.50 C410.08,41.60 410.93,42.82 411.80,43.80 C412.67,44.78 413.52,45.80 414.40,46.40 C415.28,47.00 416.22,47.28 417.10,47.40 C417.98,47.52 418.83,47.27 419.70,47.10 C420.57,46.93 421.42,46.40 422.30,46.40 C423.18,46.40 424.12,46.55 425.00,47.10 C425.88,47.65 426.72,48.82 427.60,49.70 C428.48,50.58 429.42,51.68 430.30,52.40 C431.18,53.12 432.13,53.72 432.90,54.00 C433.67,54.28 434.13,54.40 434.90,54.10 C435.67,53.80 436.60,52.98 437.50,52.20 C438.40,51.42 439.45,50.10 440.30,49.40 C441.15,48.70 441.97,48.25 442.60,48.00 C443.23,47.75 443.48,47.65 444.10,47.90 C444.72,48.15 445.57,48.67 446.30,49.50 C447.03,50.33 447.77,51.60 448.50,52.90 C449.23,54.20 449.97,55.83 450.70,57.30 C451.43,58.77 452.17,60.37 452.90,61.70 C453.63,63.03 454.25,64.15 455.10,65.30 C455.95,66.45 457.03,67.73 458.00,68.60 C458.97,69.47 459.92,70.07 460.90,70.50 C461.88,70.93 462.67,71.07 463.90,71.20 C465.13,71.33 466.60,71.33 468.30,71.30 C470.00,71.27 472.15,71.02 474.10,71.00 C476.05,70.98 478.35,71.13 480.00,71.20 C481.65,71.27 482.85,71.40 484.00,71.40 C485.15,71.40 485.92,71.40 486.90,71.20 C487.88,71.00 488.92,70.73 489.90,70.20 C490.88,69.67 491.83,68.93 492.80,68.00 C493.77,67.07 494.72,65.83 495.70,64.60 C496.68,63.37 497.72,62.07 498.70,60.60 C499.68,59.13 500.63,57.45 501.60,55.80 C502.57,54.15 503.53,52.50 504.50,50.70 C505.47,48.90 506.47,47.20 507.40,45.00 C508.33,42.80 509.13,40.45 510.10,37.50 C511.07,34.55 512.20,30.72 513.20,27.30 C514.20,23.88 515.25,19.70 516.10,17.00 C516.95,14.30 517.73,12.50 518.30,11.10 C518.87,9.70 518.97,9.78 519.50,8.60 C520.03,7.42 520.75,4.77 521.50,4.00 C522.25,3.23 523.37,3.23 524.00,4.00 C524.63,4.77 524.90,7.17 525.30,8.60 C525.70,10.03 525.85,10.58 526.40,12.60 C526.95,14.62 527.87,18.13 528.60,20.70 C529.33,23.27 530.07,25.68 530.80,28.00 C531.53,30.32 532.15,32.52 533.00,34.60 C533.85,36.68 534.92,38.97 535.90,40.50 C536.88,42.03 537.97,42.98 538.90,43.80 C539.83,44.62 541.07,45.13 541.50,45.40" fill="none" stroke="#1a1a1a" stroke-width="1.15" stroke-linejoin="round" clip-path="url(#c02)"/>
<path d="M394.50,99.70 C395.07,100.55 396.85,103.10 397.90,104.80 C398.95,106.50 399.83,108.07 400.80,109.90 C401.77,111.73 402.72,113.83 403.70,115.80 C404.68,117.77 405.83,119.93 406.70,121.70 C407.57,123.47 408.17,124.88 408.90,126.40 C409.63,127.92 410.37,129.45 411.10,130.80 C411.83,132.15 412.57,133.40 413.30,134.50 C414.03,135.60 414.65,136.50 415.50,137.40 C416.35,138.30 417.43,139.28 418.40,139.90 C419.37,140.52 420.32,140.88 421.30,141.10 C422.28,141.32 423.32,141.33 424.30,141.20 C425.28,141.07 426.35,140.82 427.20,140.30 C428.05,139.78 428.67,139.20 429.40,138.10 C430.13,137.00 430.98,135.17 431.60,133.70 C432.22,132.23 432.62,131.00 433.10,129.30 C433.58,127.60 434.10,125.13 434.50,123.50 C434.90,121.87 435.10,122.00 435.50,119.50 C435.90,117.00 436.42,112.30 436.90,108.50 C437.38,104.70 437.90,100.45 438.40,96.70 C438.90,92.95 439.58,88.45 439.90,86.00 C440.22,83.55 440.23,82.67 440.30,82.00 M453.40,82.00 C453.47,82.67 453.48,83.55 453.80,86.00 C454.12,88.45 454.73,92.72 455.30,96.70 C455.87,100.68 456.60,105.73 457.20,109.90 C457.80,114.07 458.25,118.22 458.90,121.70 C459.55,125.18 460.37,128.07 461.10,130.80 C461.83,133.53 462.43,135.90 463.30,138.10 C464.17,140.30 465.32,142.48 466.30,144.00 C467.28,145.52 468.23,146.35 469.20,147.20 C470.17,148.05 471.12,148.58 472.10,149.10 C473.08,149.62 474.08,150.05 475.10,150.30 C476.12,150.55 477.32,150.72 478.20,150.60 C479.08,150.48 479.67,150.33 480.40,149.60 C481.13,148.87 481.87,147.75 482.60,146.20 C483.33,144.65 484.07,142.50 484.80,140.30 C485.53,138.10 486.27,135.32 487.00,133.00 C487.73,130.68 488.60,128.27 489.20,126.40 C489.80,124.53 490.12,123.45 490.60,121.80 C491.08,120.15 491.48,118.80 492.10,116.50 C492.72,114.20 493.57,111.30 494.30,108.00 C495.03,104.70 495.63,100.37 496.50,96.70 C497.37,93.03 498.92,88.45 499.50,86.00 C500.08,83.55 499.92,82.67 500.00,82.00 M534.20,82.00 C534.27,82.58 534.05,83.83 534.60,85.50 C535.15,87.17 536.40,89.62 537.50,92.00 C538.60,94.38 540.45,98.30 541.20,99.80 C541.95,101.30 541.87,100.80 542.00,101.00" fill="none" stroke="#22ee22" stroke-width="1.15" stroke-linejoin="round" clip-path="url(#c12)"/>
<path d="M394.50,113.60 C394.93,114.08 396.17,115.52 397.10,116.50 C398.03,117.48 399.12,118.52 400.10,119.50 C401.08,120.48 402.15,121.52 403.00,122.40 C403.85,123.28 404.47,123.88 405.20,124.80 C405.93,125.72 406.55,126.85 407.40,127.90 C408.25,128.95 409.32,130.25 410.30,131.10 C411.28,131.95 412.43,132.63 413.30,133.00 C414.17,133.37 414.77,133.42 415.50,133.30 C416.23,133.18 416.85,132.97 417.70,132.30 C418.55,131.63 419.63,130.40 420.60,129.30 C421.57,128.20 422.80,126.58 423.50,125.70 C424.20,124.82 424.18,124.92 424.80,124.00 C425.42,123.08 426.32,121.20 427.20,120.20 C428.08,119.20 429.12,118.53 430.10,118.00 C431.08,117.47 431.97,117.25 433.10,117.00 C434.23,116.75 435.77,116.63 436.90,116.50 C438.03,116.37 439.03,116.12 439.90,116.20 C440.77,116.28 441.37,116.45 442.10,117.00 C442.83,117.55 443.57,118.50 444.30,119.50 C445.03,120.50 445.77,121.73 446.50,123.00 C447.23,124.27 447.97,125.32 448.70,127.10 C449.43,128.88 450.17,131.37 450.90,133.70 C451.63,136.03 452.37,138.65 453.10,141.10 C453.83,143.55 454.57,146.33 455.30,148.40 C456.03,150.47 456.65,152.03 457.50,153.50 C458.35,154.97 459.43,156.33 460.40,157.20 C461.37,158.07 462.08,158.28 463.30,158.70 C464.52,159.12 466.23,159.42 467.70,159.70 C469.17,159.98 470.38,160.18 472.10,160.40 C473.82,160.62 476.35,160.88 478.00,161.00 C479.65,161.12 480.62,161.20 482.00,161.10 C483.38,161.00 484.85,160.68 486.30,160.40 C487.75,160.12 489.23,159.87 490.70,159.40 C492.17,158.93 493.63,158.33 495.10,157.60 C496.57,156.87 498.03,156.17 499.50,155.00 C500.97,153.83 502.43,152.43 503.90,150.60 C505.37,148.77 507.08,145.95 508.30,144.00 C509.52,142.05 510.23,140.73 511.20,138.90 C512.17,137.07 513.12,134.83 514.10,133.00 C515.08,131.17 516.18,129.28 517.10,127.90 C518.02,126.52 518.63,125.48 519.60,124.70 C520.57,123.92 521.80,123.20 522.90,123.20 C524.00,123.20 524.92,123.72 526.20,124.70 C527.48,125.68 529.13,127.63 530.60,129.10 C532.07,130.57 533.18,132.20 535.00,133.50 C536.82,134.80 540.42,136.33 541.50,136.90" fill="none" stroke="#ff1a1a" stroke-width="1.15" stroke-linejoin="round" clip-path="url(#c12)"/>
<path d="M394.50,211.90 C394.82,212.03 395.72,212.57 396.40,212.70 C397.08,212.83 397.87,212.90 398.60,212.70 C399.33,212.50 399.95,212.05 400.80,211.50 C401.65,210.95 402.72,209.98 403.70,209.40 C404.68,208.82 405.72,208.37 406.70,208.00 C407.68,207.63 408.63,207.28 409.60,207.20 C410.57,207.12 411.52,207.37 412.50,207.50 C413.48,207.63 414.52,208.17 415.50,208.00 C416.48,207.83 417.43,207.07 418.40,206.50 C419.37,205.93 420.45,204.98 421.30,204.60 C422.15,204.22 422.77,204.08 423.50,204.20 C424.23,204.32 424.97,204.62 425.70,205.30 C426.43,205.98 427.17,207.18 427.90,208.30 C428.63,209.42 429.32,210.65 430.10,212.00 C430.88,213.35 431.73,215.23 432.60,216.40 C433.47,217.57 434.42,218.42 435.30,219.00 C436.18,219.58 437.02,219.80 437.90,219.90 C438.78,220.00 439.28,219.88 440.60,219.60 C441.92,219.32 444.05,218.78 445.80,218.20 C447.55,217.62 449.33,216.93 451.10,216.10 C452.87,215.27 454.63,214.08 456.40,213.20 C458.17,212.32 459.93,211.73 461.70,210.80 C463.47,209.87 465.62,208.43 467.00,207.60 C468.38,206.77 469.00,206.40 470.00,205.80 C471.00,205.20 472.02,204.52 473.00,204.00 C473.98,203.48 474.92,202.93 475.90,202.70 C476.88,202.47 477.90,202.38 478.90,202.60 C479.90,202.82 480.90,203.50 481.90,204.00 C482.90,204.50 483.75,205.27 484.90,205.60 C486.05,205.93 487.57,206.27 488.80,206.00 C490.03,205.73 491.20,205.22 492.30,204.00 C493.40,202.78 494.37,201.08 495.40,198.70 C496.43,196.32 497.50,193.02 498.50,189.70 C499.50,186.38 500.50,182.43 501.40,178.80 C502.30,175.17 503.27,170.78 503.90,167.90 C504.53,165.02 504.90,163.15 505.20,161.50 C505.50,159.85 505.62,158.58 505.70,158.00 M536.00,158.00 C536.07,158.67 535.98,160.25 536.40,162.00 C536.82,163.75 537.73,166.23 538.50,168.50 C539.27,170.77 540.42,174.02 541.00,175.60 C541.58,177.18 541.83,177.60 542.00,178.00" fill="none" stroke="#22ee22" stroke-width="1.15" stroke-linejoin="round" clip-path="url(#c22)"/>
<path d="M394.50,171.00 C394.70,171.62 395.27,173.12 395.70,174.70 C396.13,176.28 396.62,178.80 397.10,180.50 C397.58,182.20 397.98,183.30 398.60,184.90 C399.22,186.50 400.07,188.50 400.80,190.10 C401.53,191.70 402.27,193.18 403.00,194.50 C403.73,195.82 404.47,196.80 405.20,198.00 C405.93,199.20 406.67,200.48 407.40,201.70 C408.13,202.92 408.87,204.20 409.60,205.30 C410.33,206.40 411.07,207.52 411.80,208.30 C412.53,209.08 413.15,209.63 414.00,210.00 C414.85,210.37 415.92,210.55 416.90,210.50 C417.88,210.45 419.03,209.83 419.90,209.70 C420.77,209.57 421.37,209.45 422.10,209.70 C422.83,209.95 423.45,210.33 424.30,211.20 C425.15,212.07 426.23,213.63 427.20,214.90 C428.17,216.17 429.20,217.52 430.10,218.80 C431.00,220.08 431.73,221.47 432.60,222.60 C433.47,223.73 434.27,224.82 435.30,225.60 C436.33,226.38 437.63,226.83 438.80,227.30 C439.97,227.77 441.13,227.93 442.30,228.40 C443.47,228.87 444.62,229.52 445.80,230.10 C446.98,230.68 447.93,231.37 449.40,231.90 C450.87,232.43 452.55,232.92 454.60,233.30 C456.65,233.68 459.35,233.98 461.70,234.20 C464.05,234.42 465.65,234.47 468.70,234.60 C471.75,234.73 475.62,234.93 480.00,235.00 C484.38,235.07 491.67,235.10 495.00,235.00 C498.33,234.90 498.43,234.70 500.00,234.40 C501.57,234.10 502.93,233.73 504.40,233.20 C505.87,232.67 507.33,231.93 508.80,231.20 C510.27,230.47 511.73,229.55 513.20,228.80 C514.67,228.05 516.25,227.17 517.60,226.70 C518.95,226.23 520.08,225.92 521.30,226.00 C522.52,226.08 523.57,226.57 524.90,227.20 C526.23,227.83 527.83,228.98 529.30,229.80 C530.77,230.62 532.23,231.52 533.70,232.10 C535.17,232.68 536.80,233.00 538.10,233.30 C539.40,233.60 540.93,233.80 541.50,233.90" fill="none" stroke="#ff1a1a" stroke-width="1.15" stroke-linejoin="round" clip-path="url(#c22)"/>
<path d="M394.50,191.50 C394.82,190.17 395.72,186.18 396.40,183.50 C397.08,180.82 397.87,177.97 398.60,175.40 C399.33,172.83 400.07,170.13 400.80,168.10 C401.53,166.07 402.27,164.28 403.00,163.20 C403.73,162.12 404.47,161.65 405.20,161.60 C405.93,161.55 406.67,161.82 407.40,162.90 C408.13,163.98 408.87,166.27 409.60,168.10 C410.33,169.93 411.07,172.20 411.80,173.90 C412.53,175.60 413.27,177.07 414.00,178.30 C414.73,179.53 415.47,180.63 416.20,181.30 C416.93,181.97 417.55,182.18 418.40,182.30 C419.25,182.42 420.45,182.10 421.30,182.00 C422.15,181.90 422.77,181.50 423.50,181.70 C424.23,181.90 424.97,182.42 425.70,183.20 C426.43,183.98 427.17,185.07 427.90,186.40 C428.63,187.73 429.32,189.60 430.10,191.20 C430.88,192.80 431.73,194.75 432.60,196.00 C433.47,197.25 434.42,198.22 435.30,198.70 C436.18,199.18 437.02,199.03 437.90,198.90 C438.78,198.77 439.72,197.77 440.60,197.90 C441.48,198.03 442.33,198.52 443.20,199.70 C444.07,200.88 444.92,203.25 445.80,205.00 C446.68,206.75 447.62,208.45 448.50,210.20 C449.38,211.95 450.22,213.73 451.10,215.50 C451.98,217.27 452.92,219.18 453.80,220.80 C454.68,222.42 455.38,223.82 456.40,225.20 C457.42,226.58 458.72,227.98 459.90,229.10 C461.08,230.22 462.17,231.13 463.50,231.90 C464.83,232.67 466.15,233.25 467.90,233.70 C469.65,234.15 471.98,234.38 474.00,234.60 C476.02,234.82 476.50,234.93 480.00,235.00 C483.50,235.07 491.67,235.07 495.00,235.00 C498.33,234.93 498.43,234.83 500.00,234.60 C501.57,234.37 502.93,234.07 504.40,233.60 C505.87,233.13 507.33,232.50 508.80,231.80 C510.27,231.10 511.73,230.12 513.20,229.40 C514.67,228.68 516.25,227.92 517.60,227.50 C518.95,227.08 520.08,226.82 521.30,226.90 C522.52,226.98 523.57,227.42 524.90,228.00 C526.23,228.58 527.83,229.63 529.30,230.40 C530.77,231.17 532.23,232.05 533.70,232.60 C535.17,233.15 536.80,233.42 538.10,233.70 C539.40,233.98 540.93,234.20 541.50,234.30" fill="none" stroke="#1a1a1a" stroke-width="1.15" stroke-linejoin="round" clip-path="url(#c22)"/>
<line x1="121.46" y1="10.90" x2="121.46" y2="238.55" stroke="#ff3030" stroke-width="1.2" stroke-dasharray="5.0,4.25"/>
<line x1="301.96" y1="10.90" x2="301.96" y2="238.55" stroke="#ff3030" stroke-width="1.2" stroke-dasharray="5.0,4.25"/>
<line x1="482.46" y1="10.90" x2="482.46" y2="238.55" stroke="#ff3030" stroke-width="1.2" stroke-dasharray="5.0,4.25"/>
<line x1="128.00" y1="104.40" x2="149.70" y2="104.40" stroke="#ff1a1a" stroke-width="1.2"/>
<text x="151.90" y="107.80" font-size="9.6">Se 4p</text>
<line x1="128.00" y1="116.00" x2="149.70" y2="116.00" stroke="#22ee22" stroke-width="1.2"/>
<text x="151.90" y="119.40" font-size="9.6">Mo 4d</text>
<line x1="71.80" y1="177.00" x2="93.10" y2="177.00" stroke="#ff1a1a" stroke-width="1.2"/>
<text x="95.90" y="180.40" font-size="9.6">Br 4p</text>
<line x1="71.80" y1="188.60" x2="93.10" y2="188.60" stroke="#1a1a1a" stroke-width="1.2"/>
<text x="95.90" y="192.00" font-size="9.6">C 2p</text>
<line x1="71.80" y1="200.40" x2="93.10" y2="200.40" stroke="#22ee22" stroke-width="1.2"/>
<text x="95.90" y="203.80" font-size="9.6">Ti 3d</text>
<line x1="308.90" y1="107.00" x2="330.00" y2="107.00" stroke="#ff1a1a" stroke-width="1.2"/>
<text x="332.90" y="110.40" font-size="9.6">Se 4p</text>
<line x1="308.90" y1="118.40" x2="330.00" y2="118.40" stroke="#22ee22" stroke-width="1.2"/>
<text x="332.90" y="121.80" font-size="9.6">Mo 4d</text>
<line x1="312.20" y1="196.30" x2="333.80" y2="196.30" stroke="#ff1a1a" stroke-width="1.2"/>
<text x="336.60" y="199.70" font-size="9.6">Br 4p</text>
<line x1="312.20" y1="208.00" x2="333.80" y2="208.00" stroke="#1a1a1a" stroke-width="1.2"/>
<text x="336.60" y="211.40" font-size="9.6">C 2p</text>
<line x1="312.20" y1="219.60" x2="333.80" y2="219.60" stroke="#22ee22" stroke-width="1.2"/>
<text x="336.60" y="223.00" font-size="9.6">Ti 3d</text>
<line x1="406.60" y1="66.00" x2="427.50" y2="66.00" stroke="#1a1a1a" stroke-width="1.2"/>
<text x="431.10" y="69.40" font-size="9.6">Total</text>
<line x1="489.20" y1="103.00" x2="510.50" y2="103.00" stroke="#ff1a1a" stroke-width="1.2"/>
<text x="513.00" y="106.40" font-size="9.6">Se 4p</text>
<line x1="489.20" y1="114.80" x2="510.50" y2="114.80" stroke="#22ee22" stroke-width="1.2"/>
<text x="513.00" y="118.20" font-size="9.6">Mo 4d</text>
<line x1="491.80" y1="194.10" x2="512.60" y2="194.10" stroke="#ff1a1a" stroke-width="1.2"/>
<text x="515.40" y="197.50" font-size="9.6">Br 4p</text>
<line x1="491.80" y1="205.70" x2="512.60" y2="205.70" stroke="#1a1a1a" stroke-width="1.2"/>
<text x="515.40" y="209.10" font-size="9.6">C 2p</text>
<line x1="491.80" y1="217.30" x2="512.60" y2="217.30" stroke="#22ee22" stroke-width="1.2"/>
<text x="515.40" y="220.70" font-size="9.6">Ti 3d</text>
</svg></body></html>
